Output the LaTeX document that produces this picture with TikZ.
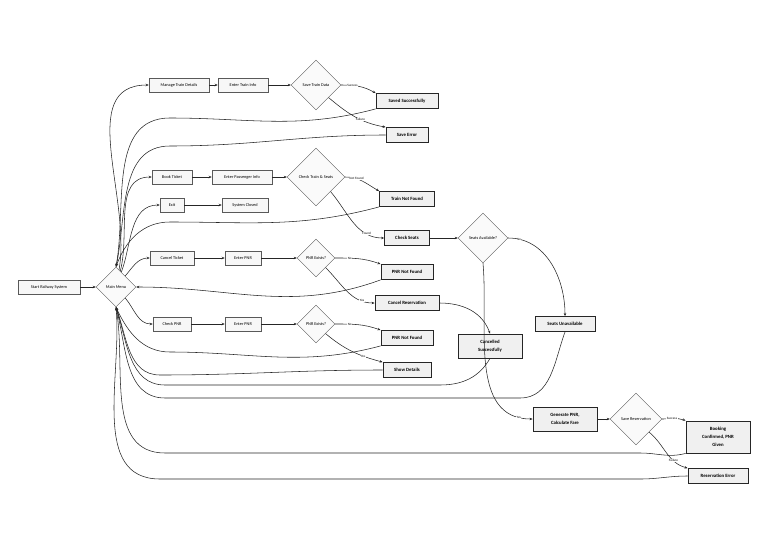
\documentclass[tikz,border=0pt]{standalone}
\usepackage{fontspec}
\setmainfont{Carlito}
\usetikzlibrary{shapes.geometric,arrows.meta}
\begin{document}
\begin{tikzpicture}[x=1pt,y=-1pt,
 box/.style={draw=gray!70!black,fill=gray!6,line width=0.5pt,minimum height=14pt,inner sep=1.5pt,font=\fontsize{4.3}{5}\selectfont},
 bbox/.style={draw=gray!30!black,fill=gray!12,line width=0.8pt,minimum height=15pt,inner sep=1.5pt,font=\fontsize{4.8}{6}\selectfont\bfseries,align=center},
 dia/.style={draw=gray!70!black,fill=gray!4,diamond,aspect=1,inner sep=0pt,font=\fontsize{4.3}{5}\selectfont},
 arr/.style={draw=black!85,line width=0.55pt,-{Stealth[length=3pt,width=2.5pt]}},
 lbl/.style={font=\fontsize{3.3}{3}\selectfont,fill=white,inner sep=0.5pt}]
\useasboundingbox (0,0) rectangle (768,543);
\node[box,minimum width=62pt] (start) at (49,287) {Start Railway System};
\node[dia,minimum width=40pt,minimum height=40pt] (menu) at (116,287) {Main Menu};
\node[box,minimum width=60pt] (mtd) at (179,85) {Manage Train Details};
\node[box,minimum width=50pt] (eti) at (243,85) {Enter Train Info};
\node[dia,minimum width=50pt,minimum height=50pt] (std) at (316,85) {Save Train Data};
\node[bbox,minimum width=62pt] (ss) at (407,101) {Saved Successfully};
\node[bbox,minimum width=42pt] (se) at (407,135) {Save Error};
\node[box,minimum width=40pt] (bt) at (172,177) {Book Ticket};
\node[box,minimum width=60pt] (epi) at (242,177) {Enter Passenger Info};
\node[dia,minimum width=58pt,minimum height=58pt] (cts) at (316,177) {Check Train \& Seats};
\node[box,minimum width=24pt] (exit) at (172,205) {Exit};
\node[box,minimum width=46pt] (sc) at (245,205) {System Closed};
\node[bbox,minimum width=55pt] (tnf) at (407,199) {Train Not Found};
\node[bbox,minimum width=45pt] (cs) at (407,238) {Check Seats};
\node[dia,minimum width=50pt,minimum height=50pt] (sa) at (483,238) {Seats Available?};
\node[box,minimum width=44pt] (ct) at (172,258) {Cancel Ticket};
\node[box,minimum width=36pt] (ep1) at (243,258) {Enter PNR};
\node[dia,minimum width=38pt,minimum height=38pt] (pe1) at (316,258) {PNR Exists?};
\node[bbox,minimum width=52pt] (pnf1) at (407,272) {PNR Not Found};
\node[bbox,minimum width=64pt] (cr) at (407,303) {Cancel Reservation};
\node[bbox,minimum width=64pt,minimum height=24pt,font=\fontsize{4.8}{8}\selectfont\bfseries] (csu) at (490,346) {Cancelled\\Successfully};
\node[bbox,minimum width=60pt] (su) at (565,324) {Seats Unavailable};
\node[box,minimum width=38pt] (cp) at (172,324) {Check PNR};
\node[box,minimum width=36pt] (ep2) at (243,324) {Enter PNR};
\node[dia,minimum width=38pt,minimum height=38pt] (pe2) at (316,324) {PNR Exists?};
\node[bbox,minimum width=52pt] (pnf2) at (407,338) {PNR Not Found};
\node[bbox,minimum width=48pt] (sd) at (407,370) {Show Details};
\node[bbox,minimum width=64pt,minimum height=24pt,font=\fontsize{4.8}{8}\selectfont\bfseries] (gp) at (565,419) {Generate PNR,\\Calculate Fare};
\node[dia,minimum width=52pt,minimum height=52pt] (sr) at (636,419) {Save Reservation};
\node[bbox,minimum width=64pt,minimum height=32pt,font=\fontsize{4.8}{8}\selectfont\bfseries] (bc) at (718,437) {Booking\\Confirmed, PNR\\Given};
\node[bbox,minimum width=60pt] (re) at (718,476) {Reservation Error};
% forward
\draw[arr] (start) -- (menu);
\draw[arr] (menu) to[out=80,in=180] (mtd.west);
\draw[arr] (menu) to[out=75,in=180] (bt.west);
\draw[arr] (menu) to[out=70,in=180] (exit.west);
\draw[arr] (menu) to[out=50,in=180] (ct.west);
\draw[arr] (menu) to[out=-50,in=180] (cp.west);
\draw[arr] (mtd) -- (eti); \draw[arr] (eti) -- (std);
\draw[arr] (std.east) to[out=0,in=150] node[lbl,pos=0.3]{Success} (ss.north west);
\draw[arr] (std.south east) to[out=-40,in=170] node[lbl,pos=0.6]{Failure} (se.north west);
\draw[arr] (bt) -- (epi); \draw[arr] (epi) -- (cts);
\draw[arr] (exit) -- (sc);
\draw[arr] (cts.east) to[out=0,in=150] node[lbl,pos=0.3]{Not Found} (tnf.north west);
\draw[arr] (cts.south east) to[out=-50,in=180] node[lbl,pos=0.75]{Found} (cs.west);
\draw[arr] (cs) -- (sa);
\draw[arr] (sa.east) to[out=0,in=90] node[lbl,pos=0.1]{No} (su.north);
\draw[arr] (sa.south) to[out=-85,in=180] node[lbl,pos=0.92]{Yes} (gp.west);
\draw[arr] (ct) -- (ep1); \draw[arr] (ep1) -- (pe1);
\draw[arr] (pe1.east) to[out=0,in=160] node[lbl,pos=0.3]{No} (pnf1.north west);
\draw[arr] (pe1.south east) to[out=-45,in=180] node[lbl,pos=0.8]{Yes} (cr.west);
\draw[arr] (cr.east) to[out=0,in=110] (csu.north);
\draw[arr] (cp) -- (ep2); \draw[arr] (ep2) -- (pe2);
\draw[arr] (pe2.east) to[out=0,in=160] node[lbl,pos=0.3]{No} (pnf2.north west);
\draw[arr] (pe2.south east) to[out=-40,in=165] node[lbl,pos=0.7]{Yes} (sd.north west);
\draw[arr] (gp) -- (sr);
\draw[arr] (sr.east) to[out=0,in=160] node[lbl,pos=0.4]{Success} (bc.north west);
\draw[arr] (sr.south east) to[out=-40,in=165] node[lbl,pos=0.7]{Failure} (re.north west);
% returns
\draw[arr] (ss.south west) to[out=195,in=0] (170,118) to[out=180,in=80] (menu.north);
\draw[arr] (se.west) to[out=180,in=0] (170,146) to[out=180,in=78] (menu.north);
\draw[arr] (tnf.south west) to[out=195,in=0] (170,222) to[out=180,in=70] (menu.north);
\draw[arr] (pnf1.south west) to[out=200,in=0] (menu.east);
\draw[arr] (pnf2.south west) to[out=195,in=0] (170,352) to[out=180,in=-65] (menu.south);
\draw[arr] (sd.west) to[out=180,in=0] (160,375) to[out=180,in=-70] (menu.south);
\draw[arr] (csu.south) to[out=-120,in=0] (440,385) -- (165,385) to[out=180,in=-72] (menu.south);
\draw[arr] (su.south) to[out=-110,in=0] (520,398) -- (165,398) to[out=180,in=-75] (menu.south);
\draw[arr] (bc.south west) to[out=195,in=0] (640,453) -- (165,453) to[out=180,in=-80] (menu.south);
\draw[arr] (re.west) to[out=180,in=0] (640,479) -- (160,479) to[out=180,in=-85] (menu.south);
\end{tikzpicture}
\end{document}
